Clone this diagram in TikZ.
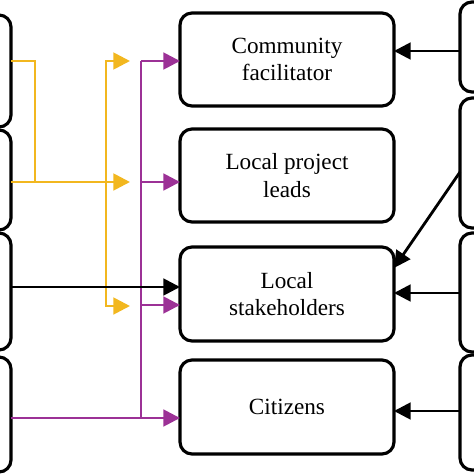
\documentclass[tikz,border=0pt]{standalone}
\usepackage{fontspec}
\setmainfont{Liberation Serif}
\usetikzlibrary{arrows.meta}
\definecolor{roleyellow}{HTML}{F2B71F}
\definecolor{rolepurple}{HTML}{9C3196}

\begin{document}
\begin{tikzpicture}[x=0.02cm, y=-0.02cm,
    role/.style={draw, line width=1.8pt, rounded corners=6.8pt, inner sep=0pt, outer sep=0pt,
        align=center, font=\fontsize{13.2}{15.5}\selectfont},
    mid/.style={role, minimum width=4.28cm},
    side/.style={role, minimum width=1.6cm},
    link/.style={line width=1.6pt, -{Triangle[length=9.5pt, width=9.5pt]}},
    yel/.style={link, draw=roleyellow},
    pur/.style={link, draw=rolepurple},
    blk/.style={link, draw=black}]
        \useasboundingbox (0,0) rectangle (474,474);
        \clip (0,0) rectangle (474,474);
        % roles in the middle
        \node[mid, minimum height=1.86cm] (facil) at (287,59.5) {Community\\facilitator};
        \node[mid, minimum height=1.86cm] (leads) at (287,175.5) {Local project\\leads};
        \node[mid, minimum height=1.88cm] (stake) at (287,294) {Local\\stakeholders};
        \node[mid, minimum height=1.88cm] (citiz) at (287,407) {Citizens};
        % boxes cut off on the left
        \node[side, minimum height=2.24cm] (l1) at (-29,71) {};
        \node[side, minimum height=2.0cm]  (l2) at (-29,180) {};
        \node[side, minimum height=2.34cm] (l3) at (-29,291.5) {};
        \node[side, minimum height=2.3cm]  (l4) at (-29,414.5) {};
        % boxes cut off on the right
        \node[side, minimum height=1.8cm]  (r1) at (500,47) {};
        \node[side, minimum height=2.6cm]  (r2) at (500,163) {};
        \node[side, minimum height=2.38cm] (r3) at (500,292.5) {};
        \node[side, minimum height=2.3cm]  (r4) at (500,412.5) {};
        % levels of the connectors
        \coordinate (y51) at (0,51);
        \coordinate (y61) at (0,61);
        \coordinate (y172) at (0,172);
        \coordinate (y182) at (0,182);
        \coordinate (y268) at (0,268);
        \coordinate (y287) at (0,287);
        \coordinate (y293) at (0,293);
        \coordinate (y305) at (0,305);
        \coordinate (y411) at (0,411);
        \coordinate (y418) at (0,418);
        % yellow branch
        \coordinate (yj) at (35,182);
        \coordinate (ya1) at (130,61);
        \coordinate (ya2) at (130,182);
        \coordinate (ya3) at (130,306);
        \draw[yel, -] (l1.east |- y61) -| (yj);
        \draw[yel] (l2.east |- y182) -- (ya2);
        \draw[yel, {Triangle[length=9.5pt, width=9.5pt]}-{Triangle[length=9.5pt, width=9.5pt]}]
            (ya1) -- (106,61) -- (106,306) -- (ya3);
        % purple branch
        \coordinate (pt) at (141,61);
        \coordinate (pb) at (141,418);
        \draw[pur, -] (pt) -- (pb);
        \draw[pur] (pt) -- (facil.west |- y61);
        \draw[pur] (pt |- y182) -- (leads.west |- y182);
        \draw[pur] (pt |- y305) -- (stake.west |- y305);
        \draw[pur] (l4.east |- y418) -- (citiz.west |- y418);
        % black links
        \draw[blk] (l3.east |- y287) -- (stake.west |- y287);
        \draw[blk] (r1.west |- y51) -- (facil.east |- y51);
        \draw[blk] (r2.west |- y172) -- (stake.east |- y268);
        \draw[blk] (r3.west |- y293) -- (stake.east |- y293);
        \draw[blk] (r4.west |- y411) -- (citiz.east |- y411);
    \end{tikzpicture}
\end{document}
